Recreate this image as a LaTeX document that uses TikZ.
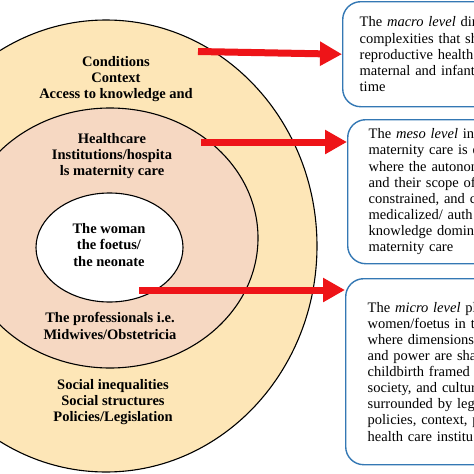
\documentclass[tikz,border=0pt]{standalone}
\usepackage{fontspec}
\setmainfont{Liberation Serif}
\usetikzlibrary{arrows.meta}
\definecolor{ringout}{RGB}{253,230,183}
\definecolor{ringmid}{RGB}{246,216,194}
\definecolor{boxblue}{RGB}{52,120,180}
\definecolor{arrowred}{RGB}{238,20,24}

\begin{document}
\begin{tikzpicture}[x=1pt, y=-1pt,
    ring/.style={draw=black, line width=1.1pt},
    lbl/.style={font=\fontsize{14.5pt}{16.1pt}\selectfont\bfseries, align=center, inner sep=0pt},
    lvlbox/.style={draw=boxblue, line width=1.4pt, rounded corners=18pt, anchor=north west,
        align=left, text width=150pt, inner ysep=0pt, font=\fontsize{14.5pt}{16.1pt}\selectfont},
    redarrow/.style={draw=arrowred, line width=7pt, -{Triangle[length=22pt, width=23pt]}}]
    \useasboundingbox (0,0) rectangle (474,474);
    \fill[white] (0,0) rectangle (474,474);
    \clip (0,0) rectangle (474,474);

    % 三层椭圆
    \draw[ring, fill=ringout] (106,246) ellipse [x radius=211pt, y radius=226pt];
    \draw[ring, fill=ringmid] (110,238) ellipse [x radius=148pt, y radius=130pt];
    \draw[ring, fill=white] (109.5,247.5) ellipse [x radius=73.5pt, y radius=54.5pt];

    % 各层文字
    \node[lbl] (cond) at (116,79) {Conditions\\Context\\Access to knowledge and};
    \node[lbl] (hosp) at (112,156) {Healthcare\\Institutions/hospita\\ls maternity care};
    \node[lbl] (woman) at (109,245) {The woman\\the foetus/\\the neonate};
    \node[lbl] (prof) at (110,326) {The professionals i.e.\\Midwives/Obstetricia};
    \node[lbl] (social) at (113,402) {Social inequalities\\Social structures\\Policies/Legislation};

    % 右侧说明框
    \node[lvlbox, inner xsep=17pt, minimum height=105pt] (macrobox) at (342,1)
        {The \textit{macro level} dim\\complexities that sh\\reproductive health\\maternal and infant\\time};
    \node[lvlbox, inner xsep=21pt, minimum height=144pt] (mesobox) at (347,119)
        {The \textit{meso level} ind\\maternity care is e\\where the autonon\\and their scope of\\constrained, and c\\medicalized/ auth\\knowledge domin\\maternity care};
    \node[lvlbox, inner xsep=22pt, minimum height=186pt] (microbox) at (345,278)
        {The \textit{micro level} plo\\women/foetus in t\\where dimensions\\and power are sha\\childbirth framed\\society, and cultur\\surrounded by leg\\policies, context, p\\health care institu};

    % 红色箭头
    \coordinate (a1) at (198,51.5);
    \coordinate (a2) at (201,142);
    \coordinate (a3) at (139,290);
    \draw[redarrow] (a1) -- (macrobox.west);
    \draw[redarrow] (a2) -- (a2 -| mesobox.west);
    \draw[redarrow] (a3) -- (a3 -| microbox.west);
\end{tikzpicture}
\end{document}
